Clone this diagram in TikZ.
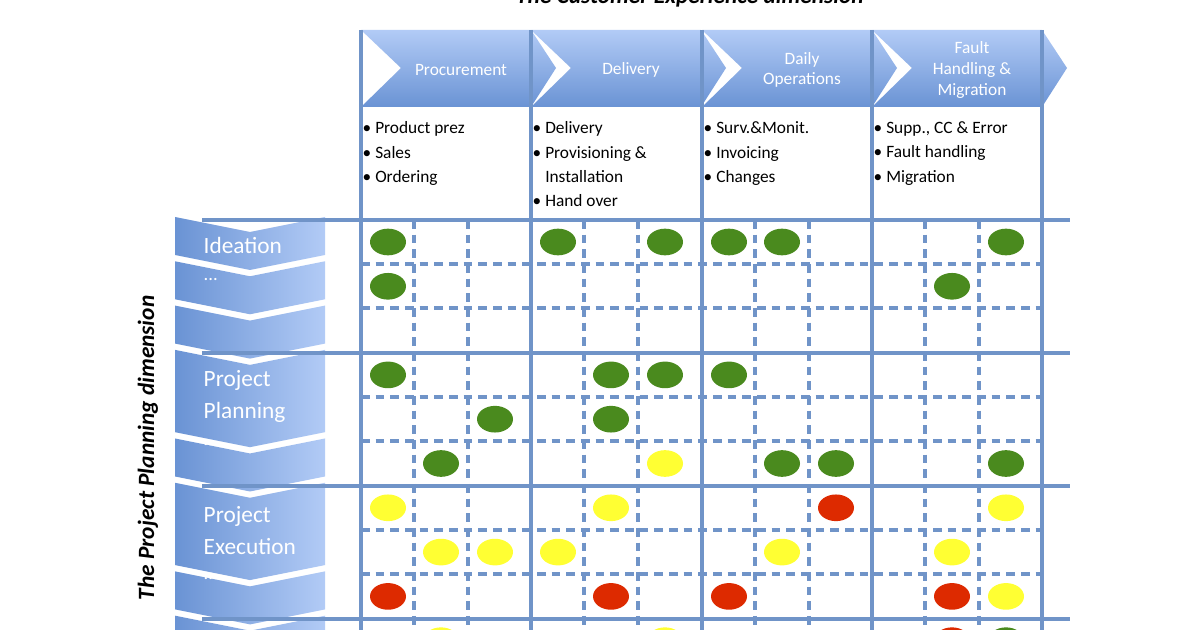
\documentclass[tikz,border=0pt]{standalone}
\usepackage{fontspec}
\setmainfont{Carlito}
\usetikzlibrary{shapes.geometric}
\begin{document}
\begin{tikzpicture}[x=0.75pt,y=-0.75pt,
  grid/.style={draw=gridc,line width=2.3pt},
  dgrid/.style={draw=gridc,line width=2.3pt,dash pattern=on 6.5pt off 4.5pt},
  lbl/.style={text=white,font=\fontsize{13}{15.5}\selectfont,align=center},
  rlbl/.style={text=white,font=\fontsize{17.5}{24}\selectfont,anchor=west,align=left},
  dots/.style={text=white,font=\fontsize{14}{16}\selectfont,anchor=west},
  blt/.style={font=\fontsize{13}{18.3}\selectfont,anchor=north west,align=left},
  dot/.style={ellipse,minimum width=27pt,minimum height=20pt,inner sep=0pt}]
\definecolor{gridc}{HTML}{7094C8}
\definecolor{cdark}{HTML}{6A93D4}
\definecolor{clight}{HTML}{B2CBF6}
\definecolor{gr}{HTML}{4A8A1E}
\definecolor{ye}{HTML}{FFFF33}
\definecolor{rd}{HTML}{DD2A00}
\useasboundingbox (0,0) rectangle (1200,630);
\clip (0,0) rectangle (1200,630);
\fill[white] (0,0) rectangle (1200,630);
% titles
\node[font=\bfseries\itshape\fontsize{17.5}{20}\selectfont] (t1) at (690,-3) {The Customer Experience dimension};
\node[font=\bfseries\itshape\fontsize{17.5}{20}\selectfont,rotate=90] (t2) at (148,448) {The Project Planning dimension};
% header chevrons
\foreach \g in {361,531,702,872}{
  \shade[top color=clight,bottom color=cdark] (\g,30) -- (\g+170,30) -- (\g+195,68) -- (\g+170,107) -- (\g,107) -- (\g+40,68) -- cycle;
}
\node[lbl] (h1) at (461,70) {Procurement};
\node[lbl] (h2) at (631,70) {Delivery};
\node[lbl] (h3) at (802,70) {Daily\\Operations};
\node[lbl] (h4) at (972,70) {Fault\\Handling \&\\Migration};
% bullets
\node[blt] (b1) at (358,117) {• Product prez\\• Sales\\• Ordering};
\node[blt] (b2) at (528,117) {• Delivery\\• Provisioning \&\\\phantom{• }Installation\\• Hand over};
\node[blt] (b3) at (699,117) {• Surv.\&Monit.\\• Invoicing\\• Changes};
\node[blt] (b4) at (869,117) {• Supp., CC \& Error\\• Fault handling\\• Migration};
% left chevrons
\foreach \a/\n in {0/1,1/1,2/1,3/2,5/1,6/2,8/1,9/2}{
  \pgfmathsetmacro\yt{217+44.3*\a}
  \pgfmathsetmacro\yb{\yt+44.3*(\n-1)+38}
  \shade[left color=cdark,right color=clight] (175,\yt) -- (250,\yt+15) -- (325,\yt) -- (325,\yb) -- (250,\yb+15) -- (175,\yb) -- cycle;
}
\node[rlbl] (r1) at (199,245) {Ideation};
\node[dots] (r2) at (199,280) {...};
\node[dots] (r3) at (199,310) {...};
\node[rlbl] (r4) at (199,396) {Project\\Planning};
\node[dots] (r5) at (199,445) {...};
\node[rlbl] (r6) at (199,531) {Project\\Execution};
\node[dots] (r7) at (199,579) {...};
% grid
\foreach \g in {361,531,702,872}{
  \draw[dgrid] (\g+53,220) -- (\g+53,640);
  \draw[dgrid] (\g+107,220) -- (\g+107,640);
}
\foreach \y in {264,308,397,441,530,574}{
  \draw[dgrid] (361,\y) -- (1042,\y);
}
\foreach \y in {220,353,486,619}{
  \draw[grid] (202,\y) -- (1070,\y);
}
\foreach \g in {361,531,702,872,1042}{
  \draw[grid] (\g,30) -- (\g,640);
}
% dots: row/col/color
\foreach \r/\c/\k [count=\i] in {0/0/gr,0/3/gr,0/5/gr,0/6/gr,0/7/gr,0/11/gr,
  1/0/gr,1/10/gr,
  3/0/gr,3/4/gr,3/5/gr,3/6/gr,
  4/2/gr,4/4/gr,
  5/1/gr,5/5/ye,5/7/gr,5/8/gr,5/11/gr,
  6/0/ye,6/4/ye,6/8/rd,6/11/ye,
  7/1/ye,7/2/ye,7/3/ye,7/7/ye,7/10/ye,
  8/0/rd,8/4/rd,8/6/rd,8/10/rd,8/11/ye,
  9/1/ye,9/5/ye,9/10/rd,9/11/gr}{
  \pgfmathsetmacro\gi{int(\c/3)}
  \pgfmathsetmacro\si{int(\c-3*\gi)}
  \pgfmathsetmacro\gx{{361,531,702,872}[\gi]}
  \pgfmathsetmacro\sx{{27,80,134}[\si]}
  \node[dot,fill=\k] (d\i) at (\gx+\sx,242+44.3*\r) {};
}
\end{tikzpicture}
\end{document}
